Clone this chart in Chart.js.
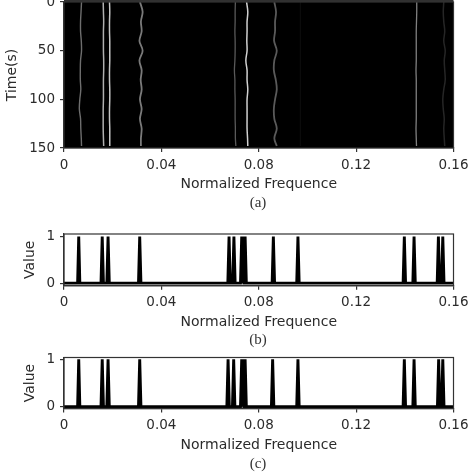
<!DOCTYPE html>
<html>
<head>
<meta charset="utf-8">
<script src="https://cdn.jsdelivr.net/npm/chart.js@4/dist/chart.umd.min.js"></script>
<style>
html, body { margin: 0; padding: 0; background: #fff; }
body { position: relative; width: 474px; height: 474px; overflow: hidden; }
canvas { position: absolute; left: 0; filter: blur(0.55px); }
.caption { position: absolute; left: 208px; width: 100px; text-align: center; font: 15px "Liberation Serif", serif; color: #333; }
</style>
</head>
<body>
<canvas id="panelA" width="474" height="193" style="top:0"></canvas>
<canvas id="panelB" width="474" height="107" style="top:224px"></canvas>
<canvas id="panelC" width="474" height="106" style="top:348px"></canvas>
<div class="caption" style="top:194px">(a)</div>
<div class="caption" style="top:331px">(b)</div>
<div class="caption" style="top:455px">(c)</div>
<script>
const freqTicks = [0, 0.04, 0.08, 0.12, 0.16];
const freqTickLabels = ['0', '0.04', '0.08', '0.12', '0.16'];
const timeTicks = [0, 50, 100, 150];
const valueTicks = [0, 1];
const xLabel = 'Normalized Frequence';

// panel (a), ridge frequency read every 10 s
const times = [0, 10, 20, 30, 40, 50, 60, 70, 80, 90, 100, 110, 120, 130, 140, 148];
const ridge1 = [.0072, .0070, .0068, .0068, .0071, .0072, .0068, .0067, .0067, .0069, .0065, .0063, .0068, .0069, .0071, .0072];
const ridge2 = [.0161, .0162, .0163, .0162, .0162, .0162, .0163, .0163, .0162, .0162, .0162, .0161, .0161, .0161, .0162, .0163];
const ridge3 = [.0187, .0188, .0187, .0187, .0188, .0188, .0188, .0187, .0187, .0188, .0188, .0187, .0187, .0188, .0188, .0188];
const ridge4 = [.0312, .0323, .0316, .0319, .0310, .0323, .0310, .0319, .0315, .0319, .0312, .0319, .0312, .0319, .0316, .0316];
const ridge5 = [.0704, .0703, .0703, .0702, .0703, .0703, .0702, .0700, .0702, .0702, .0703, .0703, .0703, .0704, .0704, .0706];
const ridge6 = [.0750, .0755, .0752, .0752, .0751, .0752, .0747, .0752, .0752, .0755, .0752, .0752, .0752, .0752, .0754, .0755];
const ridge7 = [.0864, .0871, .0867, .0867, .0863, .0874, .0864, .0862, .0870, .0874, .0867, .0862, .0864, .0874, .0864, .0874];
const ridge8 = [.1449, .1449, .1448, .1447, .1447, .1447, .1447, .1446, .1447, .1447, .1447, .1447, .1447, .1446, .1447, .1448];
const ridge9 = [.1560, .1558, .1560, .1564, .1560, .1566, .1562, .1564, .1566, .1560, .1556, .1558, .1562, .1560, .1562, .1564];
const ridge10 = [.0971, .0971, .0971, .0971, .0971, .0971, .0971, .0971, .0971, .0971, .0971, .0971, .0971, .0971, .0971, .0971];

// panels (b) and (c), frequency of every corner of the spike trace
const freqsB = [0,
  .00560, .00605, .00650, .0152, .0157, .0162, .0176, .0181, .0186, .0306, .0311, .0316,
  .0673, .0678, .0683, .0693, .0698, .0703, .0725, .0730, .0735, .0732, .0737, .0742, .0739, .0744, .0749,
  .0855, .0860, .0865, .0956, .0961, .0966, .1393, .1398, .1403, .1433, .1438, .1443,
  .1533, .1538, .1543, .1551, .1556, .1561, .16];
const freqsC = [0,
  .00560, .00605, .00650, .0152, .0157, .0162, .0176, .0181, .0186, .0306, .0311, .0316,
  .0669, .0674, .0679, .0692, .0697, .0702, .0725, .0730, .0735, .0732, .0737, .0742, .0739, .0744, .0749,
  .0852, .0857, .0862, .0956, .0961, .0966, .1393, .1398, .1403, .1433, .1438, .1443,
  .1534, .1539, .1544, .1551, .1556, .1561, .16];
const spikeValues = [0,
  0, 1, 0, 0, 1, 0, 0, 1, 0, 0, 1, 0,
  0, 1, 0, 0, 1, 0, 0, 1, 0, 0, 1, 0, 0, 1, 0,
  0, 1, 0, 0, 1, 0, 0, 1, 0, 0, 1, 0,
  0, 1, 0, 0, 1, 0, 0];

const textColor = '#2b2b2b';
const axisColor = '#333333';
const tickFont = { family: '"DejaVu Sans"', size: 13.5 };
const titleFont = { family: '"DejaVu Sans"', size: 14 };

function framePlugin(fill) {
  return {
    id: 'frame',
    beforeDatasetsDraw(chart) {
      if (!fill) return;
      const a = chart.chartArea;
      chart.ctx.fillStyle = fill;
      chart.ctx.fillRect(a.left, a.top, a.width, a.height);
    },
    afterDatasetsDraw(chart) {
      const a = chart.chartArea, ctx = chart.ctx;
      ctx.save();
      ctx.strokeStyle = axisColor;
      ctx.lineWidth = 1.2;
      if (fill) {
        ctx.fillStyle = '#303030';
        ctx.fillRect(a.left, 0, a.width, a.top);
      }
      ctx.strokeRect(a.left, a.top, a.width, a.height);
      ctx.restore();
    }
  };
}

function axes(yTicks, yOpts, yTitle, titlePad, xHeight) {
  return {
    x: {
      type: 'linear', min: 0, max: 0.16,
      afterBuildTicks: s => { s.ticks = freqTicks.map(v => ({ value: v })); },
      afterFit: s => { s.height = xHeight; s.paddingLeft = 0; s.paddingRight = 0; },
      grid: { drawOnChartArea: false, drawTicks: true, tickLength: 4, color: axisColor, lineWidth: 1.2 },
      border: { color: axisColor, width: 1.2 },
      ticks: {
        color: textColor, font: tickFont, padding: 5, maxRotation: 0, autoSkip: false,
        callback: (v, i) => freqTickLabels[i]
      },
      title: { display: true, text: xLabel, color: textColor, font: titleFont, padding: 0 }
    },
    y: Object.assign({
      type: 'linear',
      afterBuildTicks: s => { s.ticks = yTicks.map(v => ({ value: v })); },
      afterFit: s => { s.width = 64; s.paddingTop = 0; s.paddingBottom = 0; },
      grid: { drawOnChartArea: false, drawTicks: true, tickLength: 4, color: axisColor, lineWidth: 1.2 },
      border: { color: axisColor, width: 1.2 },
      ticks: { color: textColor, font: tickFont, padding: 5, autoSkip: false },
      title: { display: true, text: yTitle, color: textColor, font: titleFont, padding: titlePad }
    }, yOpts)
  };
}

function baseOptions(scales, top) {
  return {
    responsive: false,
    animation: false,
    layout: { autoPadding: false, padding: { left: 0, right: 20.5, top: top, bottom: 0 } },
    plugins: { legend: { display: false }, tooltip: { enabled: false } },
    elements: { point: { radius: 0 } },
    scales: scales
  };
}

function ridge(xs, color, width) {
  return {
    data: xs.map((x, i) => ({ x: x, y: times[i] })),
    borderColor: color, borderWidth: width, tension: 0.35, parsing: false
  };
}

new Chart(document.getElementById('panelA'), {
  type: 'line',
  data: {
    datasets: [
      ridge(ridge10, '#0c0c0c', 1.2),
      ridge(ridge9, '#262626', 1.5),
      ridge(ridge1, '#6e6e6e', 1.4),
      ridge(ridge2, '#b0b0b0', 1.5),
      ridge(ridge3, '#c4c4c4', 1.5),
      ridge(ridge4, '#7a7a7a', 1.8),
      ridge(ridge5, '#5a5a5a', 1.3),
      ridge(ridge6, '#d0d0d0', 1.5),
      ridge(ridge7, '#5a5a5a', 1.8),
      ridge(ridge8, '#808080', 1.3)
    ]
  },
  options: baseOptions(axes(timeTicks, { min: 0, max: 150, reverse: true }, 'Time(s)', 4, 45), 2),
  plugins: [framePlugin('#000000')]
});

function spikeChart(id, freqs, pad, top, xHeight) {
  new Chart(document.getElementById(id), {
    type: 'line',
    data: {
      datasets: [{
        data: freqs.map((x, i) => ({ x: x, y: spikeValues[i] })),
        borderColor: '#000000', borderWidth: 2.9, tension: 0, parsing: false,
        borderJoinStyle: 'miter'
      }]
    },
    options: baseOptions(axes(valueTicks, { min: -pad, max: 1 + pad }, 'Value', 22, xHeight), top),
    plugins: [framePlugin(null)]
  });
}

spikeChart('panelB', freqsB, 0.055, 10, 45.3);
spikeChart('panelC', freqsC, 0.04, 9.5, 45.5);
</script>
</body>
</html>
